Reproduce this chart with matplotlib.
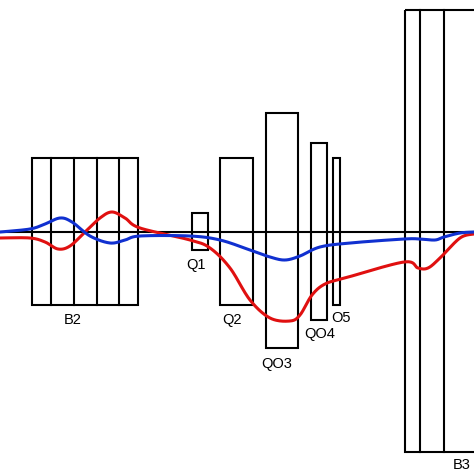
import numpy as np
import matplotlib.pyplot as plt
from matplotlib.patches import Rectangle

# magnets: name, x0, x1, top, bottom (drawing units, y down)
mag_names = ["B2", "Q1", "Q2", "QO3", "QO4", "O5", "B3"]
mag_x0 = [32, 192, 220, 266, 311, 333, 405]
mag_x1 = [138, 208, 253, 298, 327, 340, 480]
mag_top = [158, 213, 158, 113, 143, 158, 10]
mag_bot = [305, 250, 305, 348, 320, 305, 452]
label_xy = [(73, 320), (196, 265), (232, 320), (277, 364), (320, 334), (341, 318), (462, 465)]
b2_div = [51, 74, 97, 119]
b3_div = [420, 444]

blue_x = [0, 30, 45, 60, 72, 90, 110, 125, 140, 190, 220, 250, 270, 285, 300, 320, 350, 404, 420, 435, 444, 460, 474]
blue_y = [232, 229, 224, 218, 222, 236, 243, 240, 236, 236, 240, 250, 257, 260, 256, 247, 243, 239, 239, 240, 237, 233, 232]
red_x = [0, 30, 45, 58, 70, 85, 100, 112, 125, 140, 190, 210, 230, 250, 270, 290, 300, 312, 325, 345, 404, 418, 428, 440, 460, 474]
red_y = [238, 238, 242, 249, 246, 232, 218, 212, 218, 228, 240, 248, 268, 300, 318, 321, 315, 295, 284, 278, 262, 268, 268, 258, 238, 234]
axis_y = 232


def smooth(xs, ys, n=20):
    p = np.column_stack([xs, ys]).astype(float)
    p = np.vstack([p[0], p, p[-1]])
    out = []
    t = np.linspace(0, 1, n, endpoint=False)[:, None]
    for i in range(1, len(p) - 2):
        p0, p1, p2, p3 = p[i - 1], p[i], p[i + 1], p[i + 2]
        out.append(0.5 * ((2 * p1) + (-p0 + p2) * t + (2 * p0 - 5 * p1 + 4 * p2 - p3) * t**2
                          + (-p0 + 3 * p1 - 3 * p2 + p3) * t**3))
    out.append(p[-2][None, :])
    out = np.vstack(out)
    return out[:, 0], out[:, 1]


fig = plt.figure(figsize=(4.74, 4.74), dpi=100)
ax = fig.add_axes([0, 0, 1, 1])
ax.set_xlim(0, 474)
ax.set_ylim(474, 0)
ax.axis("off")

for name, x0, x1, t, b, (lx, ly) in zip(mag_names, mag_x0, mag_x1, mag_top, mag_bot, label_xy):
    ax.add_patch(Rectangle((x0, t), x1 - x0, b - t, fill=False, ec="black", lw=1.5))
    ax.text(lx, ly, name, ha="center", va="center", fontsize=10.5, family="Liberation Sans")
for d in b2_div:
    ax.plot([d, d], [158, 305], color="black", lw=1.5)
for d in b3_div:
    ax.plot([d, d], [10, 452], color="black", lw=1.5)

ax.plot([0, 474], [axis_y, axis_y], color="black", lw=1.5)
bx, by = smooth(blue_x, blue_y)
rx, ry = smooth(red_x, red_y)
ax.plot(rx, ry, color="#e01010", lw=2.2)
ax.plot(bx, by, color="#1030d0", lw=2.2)

fig.savefig("out.png", dpi=100)
